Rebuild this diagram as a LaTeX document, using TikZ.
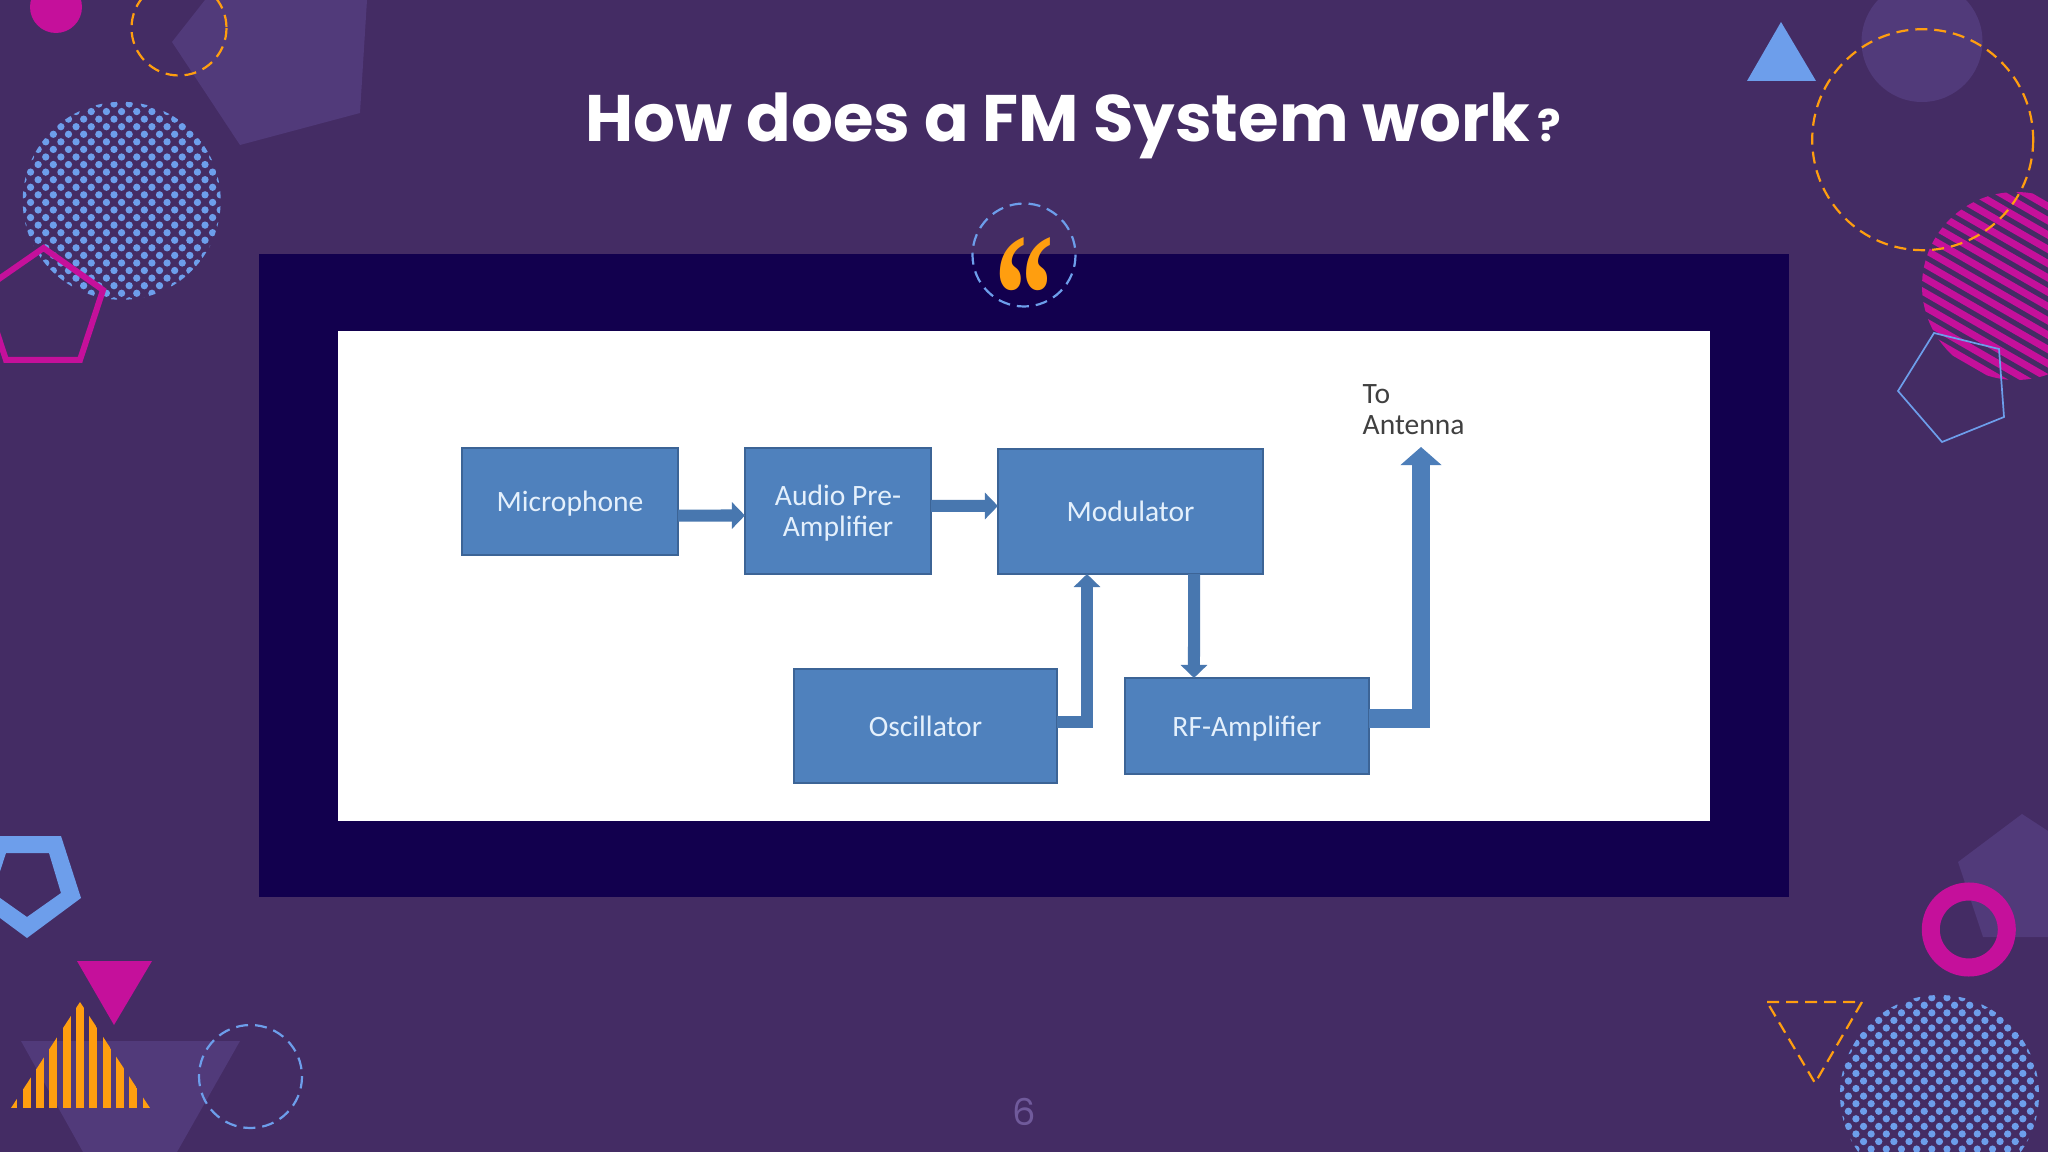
\documentclass[tikz,border=0pt]{standalone}
\usepackage{fontspec}
\usepackage{graphicx}
\usetikzlibrary{arrows.meta}
\setmainfont{Carlito}
\newfontfamily\titlefont[WordSpace=1.5]{Poppins}
\newfontfamily\pagefont{Poppins}
\newfontfamily\quotefont{Liberation Serif}

\definecolor{slide}   {RGB}{68,44,100}
\definecolor{pale}    {RGB}{81,58,122}
\definecolor{navy}    {RGB}{18,0,78}
\definecolor{magenta1}{RGB}{197,16,155}
\definecolor{sky}     {RGB}{109,158,235}
\definecolor{amber}   {RGB}{255,158,15}
\definecolor{boxblue} {RGB}{79,129,189}
\definecolor{boxline} {RGB}{60,100,150}
\definecolor{boxtext} {RGB}{228,240,252}
\definecolor{pagenum} {RGB}{112,90,155}

\tikzset{
  block/.style={draw=boxline,fill=boxblue,line width=.02cm,inner sep=0pt,outer sep=0pt,
    text=boxtext,font=\fontsize{8.4}{8.8}\selectfont,align=center,text depth=0pt},
  thinarrow/.style={draw=boxblue!65!boxline,line width=.12cm,-{Triangle[length=.13cm,width=.26cm]}},
  fatarrow/.style={draw=boxblue!90!boxline,line width=.18cm,-{Triangle[length=.18cm,width=.40cm]}},
  dashring/.style={dash pattern=on .12cm off .07cm,line width=.022cm},
}

% one disc of dots
\newcommand{\dotdisc}[3]{
  \begin{scope}
    \clip (#1,#2) circle (#3);
    \foreach \row in {0,...,27}
      \foreach \col in {-8,...,8}
        \fill[sky] ({#1-7.7+\col*15.17+mod(\row,2)*7.58},{#2-96.8+\row*7.57}) circle (3.65);
  \end{scope}
}

\begin{document}
\begin{tikzpicture}[x=.01cm,y=-.01cm]

    \fill[slide] (0,0) rectangle (2048,1152);
    \useasboundingbox (0,0) rectangle (2048,1152);

    % top left
    \fill[pale] (172,42) -- (240,145) -- (360,113) -- (367,0) -- (205,0) -- cycle;
    \begin{scope}
      \clip (0,0) rectangle (2048,1152);
      \fill[magenta1] (56,7) circle (26);
      \draw[amber,dashring] (179,28) circle (47.5);
    \end{scope}
    \dotdisc{121.7}{200.8}{99}
    \begin{scope}
      \clip (0,0) rectangle (2048,1152);
      \draw[magenta1,line width=.06cm,miter limit=10] (43.5,248) -- (103,290) -- (80,360) -- (6,360) -- (-17,290) -- cycle;
    \end{scope}

    % top right
    \begin{scope}
      \clip (0,0) rectangle (2048,1152);
      \fill[pale] (1922,41.5) circle (60.5);
      \fill[sky] (1747,81) -- (1816,81) -- (1781,22) -- cycle;
      \begin{scope}
        \clip (2016,286) circle (94);
        \foreach \k in {-12,...,16}
          \draw[magenta1,line width=.07cm] (1900,{263+\k*14.3-13.3}) -- (2060,{263+\k*14.3+79});
      \end{scope}
      \draw[amber,dashring] (1922.7,139.7) circle (110.5);
      \draw[sky,line width=.017cm] (1934,333) -- (1999,349) -- (2004,417) -- (1942,442) -- (1898,391) -- cycle;
    \end{scope}

    % bottom left
    \begin{scope}
      \clip (0,0) rectangle (2048,1152);
      \fill[sky,even odd rule] (27,938) -- (81,898) -- (61,836) -- (-7,836) -- (-27,898) -- cycle
        (27,917) -- (61,893) -- (49,853) -- (6,853) -- (-7,893) -- cycle;
      \fill[pale] (21,1041) -- (240,1041) -- (177,1152) -- (83,1152) -- cycle;
      \fill[magenta1] (77,961) -- (152,961) -- (114,1025) -- cycle;
      \begin{scope}
        \clip (11,1108) -- (80,1002) -- (150,1108) -- cycle;
        \foreach \k in {0,...,10}
          \fill[amber] ({9.4+\k*13.33},1000) rectangle ({17.4+\k*13.33},1108);
      \end{scope}
      \draw[sky,dashring] (250.5,1076.5) circle (51.5);
    \end{scope}

    % bottom right
    \begin{scope}
      \clip (0,0) rectangle (2048,1152);
      \fill[pale] (2022,814) -- (1958,862) -- (1983,937) -- (2048,937) -- (2048,831) -- cycle;
      \draw[magenta1,line width=.18cm] (1968.8,929.5) circle (38);
      \draw[amber,dashring] (1767,1002) -- (1862,1002) -- (1815,1083) -- cycle;
      \dotdisc{1939.5}{1094.5}{99.5}
    \end{scope}

    % panel
    \fill[navy] (259,254) rectangle (1789,897);
    \fill[white] (338,331) rectangle (1710,821);

    \node[text=white,inner sep=0pt,anchor=base west,font=\titlefont\bfseries\fontsize{18.7}{22}\selectfont] (title) at (585,142)
      {How does a FM System work{\fontsize{12.5}{14}\selectfont\,?}};

    \draw[sky,dashring] (1024,255) circle (51.5);
    \node[text=amber,inner sep=0pt,anchor=base,font=\quotefont\bfseries\fontsize{50}{50}\selectfont] (quote) at (1024,355) {\scalebox{.68}[1]{“}};

    % the blocks
    \node[block,minimum width=2.16cm,minimum height=1.07cm] (mic) at (570,501.5) {Microphone};
    \node[block,minimum width=1.86cm,minimum height=1.26cm] (audio) at (838,511) {Audio Pre-\\Amplifier};
    \node[block,minimum width=2.65cm,minimum height=1.25cm] (mod) at (1130.5,511.5) {Modulator};
    \node[block,minimum width=2.63cm,minimum height=1.14cm] (osc) at (925.5,726) {Oscillator};
    \node[block,minimum width=2.44cm,minimum height=.96cm] (rf) at (1247,726) {RF-Amplifier};
    \node[text=black!75,inner sep=0pt,font=\fontsize{8.4}{8.8}\selectfont,align=left,anchor=west] (label) at (1362,410) {To\\Antenna};
    \coordinate (ant) at (1421,447);

    \draw[thinarrow] ([yshift=-.14cm]mic.east) to ([yshift=-.045cm]audio.west);
    \draw[thinarrow] ([yshift=.05cm]audio.east) to ([yshift=.055cm]mod.west);
    \draw[thinarrow] ([yshift=.04cm]osc.east) -| ([xshift=-.435cm]mod.south);
    \draw[thinarrow] ([xshift=.635cm]mod.south) to ([xshift=-.53cm]rf.north);
    \draw[fatarrow] ([yshift=.075cm]rf.east) -| (ant);

    \node[text=pagenum,font=\pagefont\fontsize{10.5}{11}\selectfont] (page) at (1024,1112) {6};

  \end{tikzpicture}
\end{document}
